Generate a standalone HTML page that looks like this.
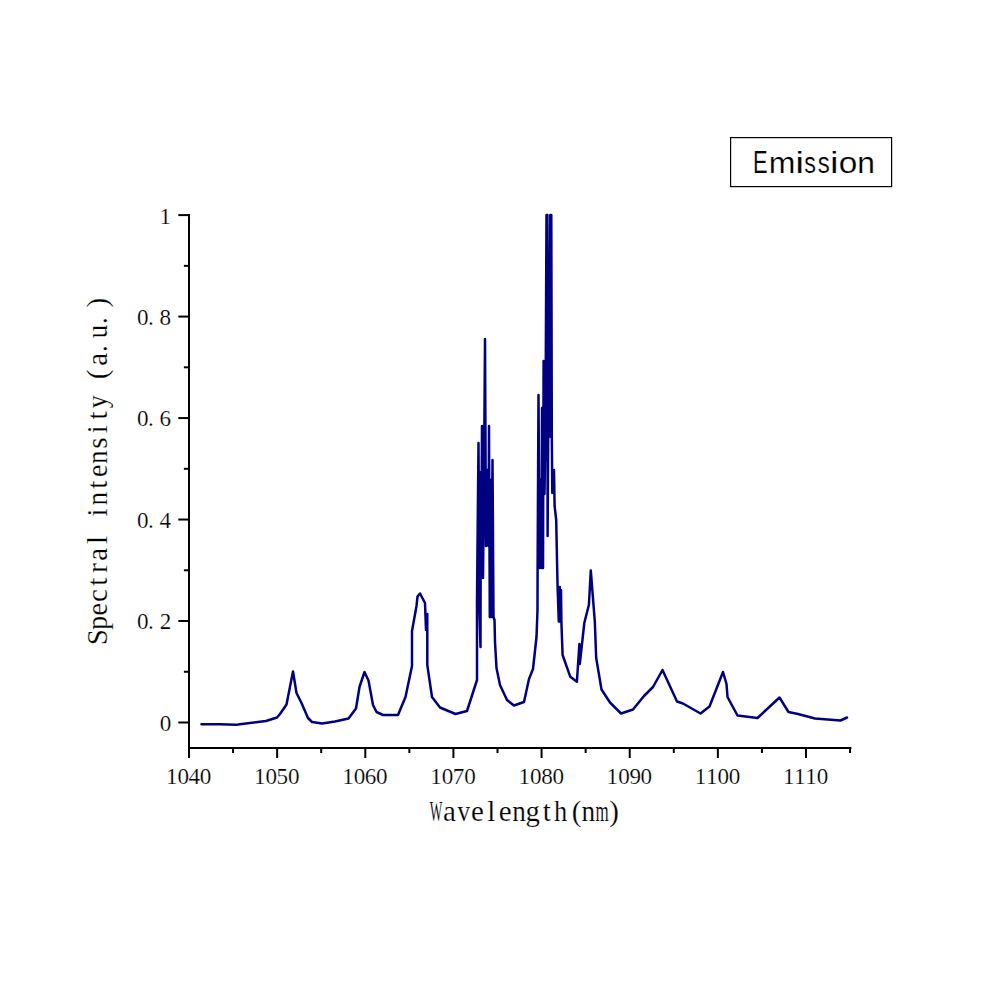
<!DOCTYPE html><html><head><meta charset="utf-8"><style>html,body{margin:0;padding:0;background:#fff;}svg{display:block} text{fill:#000;stroke:#fff;stroke-width:0.2px}</style></head><body>
<svg width="1000" height="1000" viewBox="0 0 1000 1000">
<rect x="0" y="0" width="1000" height="1000" fill="#fff"/>
<rect x="730.6" y="137.6" width="161" height="49" fill="none" stroke="#000" stroke-width="1.2"/>
<text transform="translate(753.00 172.80) scale(0.720 1.053)" font-family="'Liberation Sans', sans-serif" font-size="30.5">E</text>
<text transform="translate(768.79 172.80) scale(1.048 0.939)" font-family="'Liberation Sans', sans-serif" font-size="30.5">m</text>
<text transform="translate(795.14 172.80) scale(1.304 0.939)" font-family="'Liberation Sans', sans-serif" font-size="30.5">i</text>
<text transform="translate(804.14 172.80) scale(0.767 0.939)" font-family="'Liberation Sans', sans-serif" font-size="30.5">s</text>
<text transform="translate(817.83 172.80) scale(0.790 0.939)" font-family="'Liberation Sans', sans-serif" font-size="30.5">s</text>
<text transform="translate(830.11 172.80) scale(1.267 0.939)" font-family="'Liberation Sans', sans-serif" font-size="30.5">i</text>
<text transform="translate(838.82 172.80) scale(1.094 0.939)" font-family="'Liberation Sans', sans-serif" font-size="30.5">o</text>
<text transform="translate(857.30 172.80) scale(1.041 0.939)" font-family="'Liberation Sans', sans-serif" font-size="30.5">n</text>
<g stroke="#000" stroke-width="2" fill="none" stroke-linecap="butt">
<path d="M189.0 214.1 V758.0"/>
<path d="M188.0 748.0 H851.4"/>
<path d="M178.3 722.50 H189.0"/>
<path d="M178.3 621.02 H189.0"/>
<path d="M178.3 519.54 H189.0"/>
<path d="M178.3 418.06 H189.0"/>
<path d="M178.3 316.58 H189.0"/>
<path d="M178.3 215.10 H189.0"/>
<path d="M183.9 671.76 H189.0"/>
<path d="M183.9 570.28 H189.0"/>
<path d="M183.9 468.80 H189.0"/>
<path d="M183.9 367.32 H189.0"/>
<path d="M183.9 265.84 H189.0"/>
<path d="M189.00 748.0 V758.0"/>
<path d="M277.14 748.0 V758.0"/>
<path d="M365.29 748.0 V758.0"/>
<path d="M453.43 748.0 V758.0"/>
<path d="M541.57 748.0 V758.0"/>
<path d="M629.71 748.0 V758.0"/>
<path d="M717.86 748.0 V758.0"/>
<path d="M806.00 748.0 V758.0"/>
<path d="M233.07 748.0 V753.0"/>
<path d="M321.21 748.0 V753.0"/>
<path d="M409.36 748.0 V753.0"/>
<path d="M497.50 748.0 V753.0"/>
<path d="M585.64 748.0 V753.0"/>
<path d="M673.79 748.0 V753.0"/>
<path d="M761.93 748.0 V753.0"/>
<path d="M850.07 748.0 V753.0"/>
</g>
<text transform="translate(165.90 784.40) scale(1.000 1.000)" font-family="'Liberation Serif', serif" font-size="23.1">1</text>
<text transform="translate(177.43 784.40) scale(1.000 1.000)" font-family="'Liberation Serif', serif" font-size="23.1">0</text>
<text transform="translate(188.59 784.40) scale(1.000 1.000)" font-family="'Liberation Serif', serif" font-size="23.1">4</text>
<text transform="translate(199.83 784.40) scale(1.000 1.000)" font-family="'Liberation Serif', serif" font-size="23.1">0</text>
<text transform="translate(254.04 784.40) scale(1.000 1.000)" font-family="'Liberation Serif', serif" font-size="23.1">1</text>
<text transform="translate(265.57 784.40) scale(1.000 1.000)" font-family="'Liberation Serif', serif" font-size="23.1">0</text>
<text transform="translate(276.55 784.40) scale(1.000 1.000)" font-family="'Liberation Serif', serif" font-size="23.1">5</text>
<text transform="translate(287.97 784.40) scale(1.000 1.000)" font-family="'Liberation Serif', serif" font-size="23.1">0</text>
<text transform="translate(342.19 784.40) scale(1.000 1.000)" font-family="'Liberation Serif', serif" font-size="23.1">1</text>
<text transform="translate(353.71 784.40) scale(1.000 1.000)" font-family="'Liberation Serif', serif" font-size="23.1">0</text>
<text transform="translate(364.76 784.40) scale(1.000 1.000)" font-family="'Liberation Serif', serif" font-size="23.1">6</text>
<text transform="translate(376.11 784.40) scale(1.000 1.000)" font-family="'Liberation Serif', serif" font-size="23.1">0</text>
<text transform="translate(430.33 784.40) scale(1.000 1.000)" font-family="'Liberation Serif', serif" font-size="23.1">1</text>
<text transform="translate(441.85 784.40) scale(1.000 1.000)" font-family="'Liberation Serif', serif" font-size="23.1">0</text>
<text transform="translate(452.63 784.40) scale(1.000 1.000)" font-family="'Liberation Serif', serif" font-size="23.1">7</text>
<text transform="translate(464.25 784.40) scale(1.000 1.000)" font-family="'Liberation Serif', serif" font-size="23.1">0</text>
<text transform="translate(518.47 784.40) scale(1.000 1.000)" font-family="'Liberation Serif', serif" font-size="23.1">1</text>
<text transform="translate(530.00 784.40) scale(1.000 1.000)" font-family="'Liberation Serif', serif" font-size="23.1">0</text>
<text transform="translate(541.20 784.40) scale(1.000 1.000)" font-family="'Liberation Serif', serif" font-size="23.1">8</text>
<text transform="translate(552.40 784.40) scale(1.000 1.000)" font-family="'Liberation Serif', serif" font-size="23.1">0</text>
<text transform="translate(606.62 784.40) scale(1.000 1.000)" font-family="'Liberation Serif', serif" font-size="23.1">1</text>
<text transform="translate(618.14 784.40) scale(1.000 1.000)" font-family="'Liberation Serif', serif" font-size="23.1">0</text>
<text transform="translate(629.44 784.40) scale(1.000 1.000)" font-family="'Liberation Serif', serif" font-size="23.1">9</text>
<text transform="translate(640.54 784.40) scale(1.000 1.000)" font-family="'Liberation Serif', serif" font-size="23.1">0</text>
<text transform="translate(694.76 784.40) scale(1.000 1.000)" font-family="'Liberation Serif', serif" font-size="23.1">1</text>
<text transform="translate(705.96 784.40) scale(1.000 1.000)" font-family="'Liberation Serif', serif" font-size="23.1">1</text>
<text transform="translate(717.48 784.40) scale(1.000 1.000)" font-family="'Liberation Serif', serif" font-size="23.1">0</text>
<text transform="translate(728.68 784.40) scale(1.000 1.000)" font-family="'Liberation Serif', serif" font-size="23.1">0</text>
<text transform="translate(782.90 784.40) scale(1.000 1.000)" font-family="'Liberation Serif', serif" font-size="23.1">1</text>
<text transform="translate(794.10 784.40) scale(1.000 1.000)" font-family="'Liberation Serif', serif" font-size="23.1">1</text>
<text transform="translate(805.30 784.40) scale(1.000 1.000)" font-family="'Liberation Serif', serif" font-size="23.1">1</text>
<text transform="translate(816.82 784.40) scale(1.000 1.000)" font-family="'Liberation Serif', serif" font-size="23.1">0</text>
<text transform="translate(159.72 730.90) scale(1.000 1.000)" font-family="'Liberation Serif', serif" font-size="23.1">0</text>
<text transform="translate(137.12 629.42) scale(1.000 1.000)" font-family="'Liberation Serif', serif" font-size="23.1">0</text>
<text transform="translate(148.11 629.42) scale(1.000 1.000)" font-family="'Liberation Serif', serif" font-size="23.1">.</text>
<text transform="translate(159.75 629.42) scale(1.000 1.000)" font-family="'Liberation Serif', serif" font-size="23.1">2</text>
<text transform="translate(137.12 527.94) scale(1.000 1.000)" font-family="'Liberation Serif', serif" font-size="23.1">0</text>
<text transform="translate(148.11 527.94) scale(1.000 1.000)" font-family="'Liberation Serif', serif" font-size="23.1">.</text>
<text transform="translate(159.59 527.94) scale(1.000 1.000)" font-family="'Liberation Serif', serif" font-size="23.1">4</text>
<text transform="translate(137.12 426.46) scale(1.000 1.000)" font-family="'Liberation Serif', serif" font-size="23.1">0</text>
<text transform="translate(148.11 426.46) scale(1.000 1.000)" font-family="'Liberation Serif', serif" font-size="23.1">.</text>
<text transform="translate(159.47 426.46) scale(1.000 1.000)" font-family="'Liberation Serif', serif" font-size="23.1">6</text>
<text transform="translate(137.12 324.98) scale(1.000 1.000)" font-family="'Liberation Serif', serif" font-size="23.1">0</text>
<text transform="translate(148.11 324.98) scale(1.000 1.000)" font-family="'Liberation Serif', serif" font-size="23.1">.</text>
<text transform="translate(159.62 324.98) scale(1.000 1.000)" font-family="'Liberation Serif', serif" font-size="23.1">8</text>
<text transform="translate(159.40 223.50) scale(1.000 1.000)" font-family="'Liberation Serif', serif" font-size="23.1">1</text>
<text transform="translate(429.69 821.00) scale(0.462 1.000)" font-family="'Liberation Serif', serif" font-size="29.0">W</text>
<text transform="translate(443.11 821.00) scale(1.000 1.000)" font-family="'Liberation Serif', serif" font-size="29.0">a</text>
<text transform="translate(457.40 821.00) scale(0.869 1.000)" font-family="'Liberation Serif', serif" font-size="29.0">v</text>
<text transform="translate(471.05 821.00) scale(1.000 1.000)" font-family="'Liberation Serif', serif" font-size="29.0">e</text>
<text transform="translate(487.37 821.00) scale(1.000 1.000)" font-family="'Liberation Serif', serif" font-size="29.0">l</text>
<text transform="translate(498.75 821.00) scale(1.000 1.000)" font-family="'Liberation Serif', serif" font-size="29.0">e</text>
<text transform="translate(512.17 821.00) scale(0.940 1.000)" font-family="'Liberation Serif', serif" font-size="29.0">n</text>
<text transform="translate(525.41 821.00) scale(0.992 1.000)" font-family="'Liberation Serif', serif" font-size="29.0">g</text>
<text transform="translate(542.71 821.00) scale(1.000 1.000)" font-family="'Liberation Serif', serif" font-size="29.0">t</text>
<text transform="translate(554.09 821.00) scale(0.911 1.000)" font-family="'Liberation Serif', serif" font-size="29.0">h</text>
<text transform="translate(571.70 821.00) scale(1.000 1.000)" font-family="'Liberation Serif', serif" font-size="29.0">(</text>
<text transform="translate(581.42 821.00) scale(0.940 1.000)" font-family="'Liberation Serif', serif" font-size="29.0">n</text>
<text transform="translate(595.54 821.00) scale(0.586 1.000)" font-family="'Liberation Serif', serif" font-size="29.0">m</text>
<text transform="translate(609.15 821.00) scale(1.000 1.000)" font-family="'Liberation Serif', serif" font-size="29.0">)</text>
<text transform="translate(107.00 637.00) rotate(-90) translate(-8.13 0) scale(1.000 1.000)" font-family="'Liberation Serif', serif" font-size="29.0">S</text>
<text transform="translate(107.00 623.15) rotate(-90) translate(-6.75 0) scale(0.976 1.000)" font-family="'Liberation Serif', serif" font-size="29.0">p</text>
<text transform="translate(107.00 609.30) rotate(-90) translate(-6.50 0) scale(1.000 1.000)" font-family="'Liberation Serif', serif" font-size="29.0">e</text>
<text transform="translate(107.00 595.45) rotate(-90) translate(-6.54 0) scale(1.000 1.000)" font-family="'Liberation Serif', serif" font-size="29.0">c</text>
<text transform="translate(107.00 581.60) rotate(-90) translate(-4.09 0) scale(1.000 1.000)" font-family="'Liberation Serif', serif" font-size="29.0">t</text>
<text transform="translate(107.00 567.75) rotate(-90) translate(-4.99 0) scale(1.000 1.000)" font-family="'Liberation Serif', serif" font-size="29.0">r</text>
<text transform="translate(107.00 553.90) rotate(-90) translate(-6.74 0) scale(1.000 1.000)" font-family="'Liberation Serif', serif" font-size="29.0">a</text>
<text transform="translate(107.00 540.05) rotate(-90) translate(-4.03 0) scale(1.000 1.000)" font-family="'Liberation Serif', serif" font-size="29.0">l</text>
<text transform="translate(107.00 512.35) rotate(-90) translate(-4.06 0) scale(1.000 1.000)" font-family="'Liberation Serif', serif" font-size="29.0">i</text>
<text transform="translate(107.00 498.50) rotate(-90) translate(-6.93 0) scale(0.940 1.000)" font-family="'Liberation Serif', serif" font-size="29.0">n</text>
<text transform="translate(107.00 484.65) rotate(-90) translate(-4.09 0) scale(1.000 1.000)" font-family="'Liberation Serif', serif" font-size="29.0">t</text>
<text transform="translate(107.00 470.80) rotate(-90) translate(-6.50 0) scale(1.000 1.000)" font-family="'Liberation Serif', serif" font-size="29.0">e</text>
<text transform="translate(107.00 456.95) rotate(-90) translate(-6.93 0) scale(0.940 1.000)" font-family="'Liberation Serif', serif" font-size="29.0">n</text>
<text transform="translate(107.00 443.10) rotate(-90) translate(-5.71 0) scale(1.000 1.000)" font-family="'Liberation Serif', serif" font-size="29.0">s</text>
<text transform="translate(107.00 429.25) rotate(-90) translate(-4.06 0) scale(1.000 1.000)" font-family="'Liberation Serif', serif" font-size="29.0">i</text>
<text transform="translate(107.00 415.40) rotate(-90) translate(-4.09 0) scale(1.000 1.000)" font-family="'Liberation Serif', serif" font-size="29.0">t</text>
<text transform="translate(107.00 401.55) rotate(-90) translate(-6.61 0) scale(0.898 1.000)" font-family="'Liberation Serif', serif" font-size="29.0">y</text>
<text transform="translate(107.00 374.20) rotate(-90) translate(-5.00 0) scale(1.000 1.000)" font-family="'Liberation Serif', serif" font-size="29.0">(</text>
<text transform="translate(107.00 359.10) rotate(-90) translate(-6.74 0) scale(1.000 1.000)" font-family="'Liberation Serif', serif" font-size="29.0">a</text>
<text transform="translate(107.00 348.60) rotate(-90) translate(-3.62 0) scale(1.000 1.000)" font-family="'Liberation Serif', serif" font-size="29.0">.</text>
<text transform="translate(107.00 331.70) rotate(-90) translate(-6.65 0) scale(0.924 1.000)" font-family="'Liberation Serif', serif" font-size="29.0">u</text>
<text transform="translate(107.00 320.60) rotate(-90) translate(-3.62 0) scale(1.000 1.000)" font-family="'Liberation Serif', serif" font-size="29.0">.</text>
<text transform="translate(107.00 302.75) rotate(-90) translate(-4.65 0) scale(1.000 1.000)" font-family="'Liberation Serif', serif" font-size="29.0">)</text>
<polyline fill="none" stroke="#000080" stroke-width="2.5" stroke-linejoin="round" stroke-linecap="round" points="201.5,724.2 220,724.3 236,724.8 238,724.6 266,721 277,717.5 280,714 286.5,704.5 293,671.5 296.5,693 301.5,703 308,718 312,722 322,723.5 335,721.5 348.5,718.5 356,708.5 359.5,687 364.5,672 368.5,680.5 373,705 376.5,712 383,715 398,715 405.5,697 412,666 412,631 416.5,606 417.5,596.5 420,593.5 425,603 426,630 427.3,614 427.3,665 432,697 440,707.5 455.5,714 467,711 477,680 477,600 478.5,443 479.5,612 480.5,647 480.8,472 481.3,560 482,426 483,578 484,480 485,339 486,546 487.5,470 488.5,546 489,426 489.8,617 491,480 491.5,617 492.5,460 493.5,617 494.5,620 495,642 496.5,668 500,685 507,700 514,705.5 524,702 529,679 533,669 536.5,637 537.5,610 537.6,568 538.5,395 539.5,568 540.5,480 541.5,568 542,408 543,568 543.6,361 544.5,494 545.5,420 546.5,215 547.0,460 547.4,215 547.6,536 548.2,437 550.3,215 550.7,437 551.3,215 551.8,437 552.3,493 554,470 554.6,506 556.2,520 557,560 557.6,587 558.8,621.5 559.8,587 560.6,621.5 561.0,590 561.4,622 562.6,655 570.3,676.8 576.9,681.7 579.4,644 579.8,664 584.3,623 588.9,604.8 590.8,570.5 594.8,621.5 596.2,658 601.5,689.5 610,702.5 621,713.5 633,709.5 644,696 653,687 662.5,670 677,701.5 683,703.5 700.5,713.5 709.5,706.5 723,672 726.5,684 727.5,697 737.5,715.5 757.5,718 779.5,697.5 788.5,712 798,714 815,718.5 840.5,720.5 847,717.5"/>
</svg></body></html>
